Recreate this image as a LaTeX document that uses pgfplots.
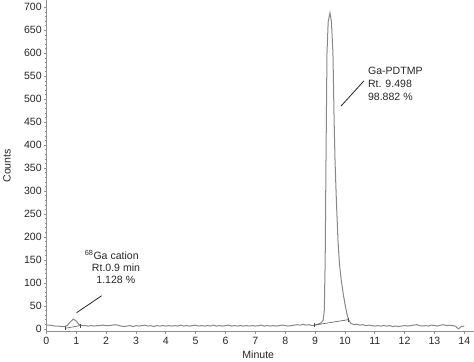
\documentclass[border=0pt]{standalone}
\usepackage{pgfplots}
\pgfplotsset{compat=1.18}
\usepackage{fontspec}
\setmainfont{Liberation Sans}
\definecolor{sig}{HTML}{888888}
\definecolor{axc}{HTML}{909090}
\begin{document}
\begin{tikzpicture}
\begin{axis}[
  scale only axis, width=425pt, height=329pt,
  xmin=0, xmax=14.31, ymin=-5, ymax=715,
  axis x line*=bottom, axis y line*=left,
  axis line style={axc, line width=0.9pt, -},
  xtick={0,1,...,14}, ytick={0,50,...,700},
  minor y tick num=4,
  tick style={axc, line width=0.6pt},
  tick align=outside, major tick length=2.5pt, minor tick length=1.5pt,
  ticklabel style={font=\fontsize{10.5}{12}\selectfont, text=black!85},
  yticklabel style={inner sep=2pt},
  /pgf/number format/assume math mode=true,
  xlabel={Minute}, ylabel={Counts},
  label style={font=\fontsize{10.5}{12}\selectfont, text=black!85},
  xlabel style={at={(axis description cs:0.496,0)}, anchor=center, yshift=-23pt},
  ylabel style={at={(axis description cs:-0.092,0.5)}, anchor=center},
  clip=false,
]
\addplot[sig, line width=1pt] coordinates {
(0,8) (0.1,8) (0.2,7) (0.3,6) (0.4,6) (0.5,5) (0.6,5) (0.7,7) (0.8,15) (0.9,21) (1.0,17) (1.1,9) (1.2,7) (1.3,7) (1.4,6) (1.5,7) (1.6,6) (1.7,7) (1.8,7) (1.9,8) (2.0,7) (2.1,7) (2.2,8) (2.3,9) (2.4,8) (2.5,6) (2.6,5) (2.7,6) (2.8,7) (2.9,5) (3.0,7) (3.1,6) (3.2,7) (3.3,8) (3.4,6) (3.5,7) (3.6,5) (3.7,7) (3.8,6) (3.9,7) (4.0,6) (4.1,7) (4.2,6) (4.3,7) (4.4,6) (4.5,8) (4.6,6) (4.7,7) (4.8,6) (4.9,7) (5.0,8) (5.1,6) (5.2,7) (5.3,6) (5.4,7) (5.5,6) (5.6,8) (5.7,6) (5.8,7) (5.9,6) (6.0,7) (6.1,8) (6.2,6) (6.3,7) (6.4,6) (6.5,7) (6.6,6) (6.7,7) (6.8,6) (6.9,7) (7.0,6) (7.1,7) (7.2,8) (7.3,6) (7.4,7) (7.5,6) (7.6,7) (7.7,6) (7.8,7) (7.9,8) (8.0,7) (8.1,6) (8.2,7) (8.3,8) (8.4,9) (8.5,8) (8.6,10) (8.7,8) (8.8,9) (8.9,7) (9.0,8) (9.1,10) (9.2,13) (9.27,18) (9.31,40) (9.34,150) (9.37,390) (9.40,600) (9.44,668) (9.50,688) (9.55,668) (9.60,600) (9.64,450) (9.67,365) (9.72,270) (9.77,190) (9.82,140) (9.88,105) (9.94,78) (10.0,55) (10.06,35) (10.12,20) (10.2,12) (10.3,9) (10.4,10) (10.5,8) (10.6,9) (10.7,7) (10.8,8) (10.9,7) (11.0,6) (11.1,7) (11.2,6) (11.3,7) (11.4,6) (11.5,7) (11.6,5) (11.7,6) (11.8,5) (11.9,6) (12.0,7) (12.1,6) (12.2,7) (12.3,8) (12.4,9) (12.5,7) (12.6,6) (12.7,7) (12.8,6) (12.9,8) (13.0,7) (13.1,6) (13.2,8) (13.3,9) (13.4,7) (13.5,8) (13.6,7) (13.7,6) (13.8,0) (13.85,2) (13.9,5) (14.0,6)
};
% integration baselines
\addplot[black!65, line width=0.6pt] coordinates {(0.62,1) (1.12,7)};
\addplot[black!65, line width=0.6pt] coordinates {(8.97,8) (10.12,20)};
\addplot[black!70, only marks, mark=|, mark size=2pt] coordinates {(0.62,1) (1.12,7) (8.97,8) (10.12,20)};
% annotations
\draw[black!85, line width=0.8pt] (axis cs:9.87,485) -- (axis cs:10.64,540);
\node[anchor=north west, align=left, inner sep=0pt, font=\fontsize{10.5}{13}\selectfont, text=black!85] at (axis cs:10.77,570) {Ga-PDTMP\\Rt. 9.498\\98.882 \%};
\draw[black!85, line width=0.8pt] (axis cs:1.01,35) -- (axis cs:1.85,72);
\node[anchor=west, inner sep=0pt, font=\fontsize{10.5}{12}\selectfont, text=black!85] at (axis cs:1.28,161) {\textsuperscript{68}Ga cation};
\node[anchor=west, inner sep=0pt, font=\fontsize{10.5}{12}\selectfont, text=black!85] at (axis cs:1.52,134) {Rt.0.9 min};
\node[anchor=west, inner sep=0pt, font=\fontsize{10.5}{12}\selectfont, text=black!85] at (axis cs:1.67,106) {1.128 \%};
\end{axis}
\end{tikzpicture}
\end{document}
